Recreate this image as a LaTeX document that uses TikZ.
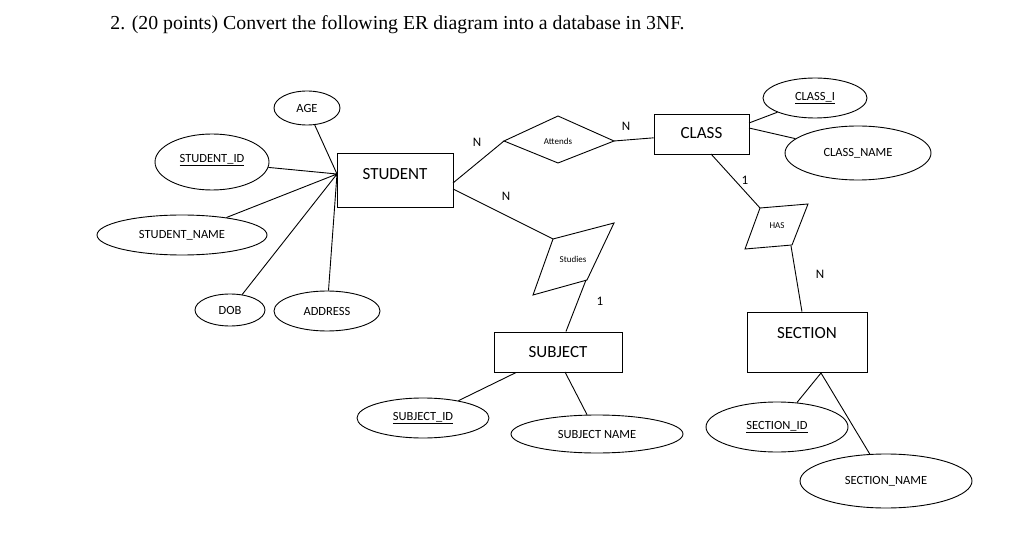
\documentclass[tikz,border=0pt]{standalone}
\usepackage{fontspec}
\usetikzlibrary{shapes.geometric}
\setmainfont{Carlito}
\newfontfamily\titlefont{Liberation Serif}
\begin{document}
\begin{tikzpicture}[x=1pt,y=-1pt,line width=0.9pt,
  ent/.style={draw,rectangle,inner sep=0pt,font=\fontsize{17}{17}\selectfont},
  att/.style={draw,ellipse,inner sep=0pt,font=\fontsize{12.5}{13}\selectfont},
  lbl/.style={font=\fontsize{13}{13}\selectfont,inner sep=0pt},
  rel/.style={font=\fontsize{9}{9}\selectfont,inner sep=0pt}]
\useasboundingbox (0,0) rectangle (1024,534);
\node[anchor=west,font=\titlefont\fontsize{19.8}{20}\selectfont,inner sep=0pt] (title) at (110,25) {2. (20 points) Convert the following ER diagram into a database in 3NF.};
% STUDENT
\draw (337,153) rectangle (453,207);
\node[font=\fontsize{17}{17}\selectfont] (stut) at (395,174) {STUDENT};
\coordinate (sw) at (337,174);
\coordinate (se1) at (453,183);
\coordinate (se2) at (453,189);
\node[att,minimum width=66,minimum height=34] (age) at (307,108) {AGE};
\node[att,minimum width=114,minimum height=56] (sid) at (212,162) {\raisebox{8pt}{\underline{STUDENT\_ID}}};
\node[att,minimum width=170,minimum height=40] (sname) at (182,235) {STUDENT\_NAME};
\node[att,minimum width=70,minimum height=32] (dob) at (230,310) {DOB};
\node[att,minimum width=106,minimum height=40] (addr) at (327,311) {ADDRESS};
\draw (sw) -- (age) (sw) -- (sid) (sw) -- (sname) (sw) -- (dob) (sw) -- (addr);
% Attends
\coordinate (al) at (504,141); \coordinate (at) at (558,116);
\coordinate (ar) at (614,141); \coordinate (ab) at (558,163);
\draw (al) -- (at) -- (ar) -- (ab) -- cycle;
\node[rel] (att) at (558,141) {Attends};
% CLASS
\node[ent,minimum width=95,minimum height=40] (cls) at (701.5,134) {\raisebox{2pt}{CLASS}};
\draw (se1) -- (al) (ar) -- (cls);
\node[att,minimum width=104,minimum height=40] (cid) at (815,98) {\underline{CLASS\_I}};
\node[att,minimum width=146,minimum height=54] (cname) at (858,153) {CLASS\_NAME};
\coordinate (ce1) at (749,123);
\coordinate (ce2) at (749,128);
\draw (ce1) -- (cid) (ce2) -- (cname);
% HAS
\coordinate (h1) at (760,208); \coordinate (h2) at (808,204);
\coordinate (h3) at (792,245); \coordinate (h4) at (745,249);
\draw (h1) -- (h2) -- (h3) -- (h4) -- cycle;
\node[rel] (has) at (777,226) {HAS};
\coordinate (cb) at (711,154);
\draw (cb) -- (h1);
% SECTION
\node[ent,minimum width=120,minimum height=60] (sec) at (807,342) {\raisebox{18pt}{SECTION}};
\coordinate (hb) at (791,246);
\draw (hb) -- (sec);
\node[att,minimum width=142,minimum height=50] (secid) at (777,427) {\raisebox{4pt}{\underline{SECTION\_ID}}};
\node[att,minimum width=172,minimum height=54] (secn) at (886,481) {SECTION\_NAME};
\coordinate (sb) at (821,373);
\draw (sb) -- (secid) (sb) -- (secn);
% Studies
\coordinate (s1) at (553,239); \coordinate (s2) at (614,223);
\coordinate (s3) at (587,280); \coordinate (s4) at (533,295);
\draw (s1) -- (s2) -- (s3) -- (s4) -- cycle;
\node[rel] (stud) at (573,259) {Studies};
\draw (se2) -- (s1);
% SUBJECT
\node[ent,minimum width=128,minimum height=40] (sub) at (558,352) {SUBJECT};
\coordinate (sbt) at (586,280);
\draw (sbt) -- (sub);
\node[att,minimum width=132,minimum height=40] (subid) at (423,418) {\raisebox{4pt}{\underline{SUBJECT\_ID}}};
\node[att,minimum width=172,minimum height=38] (subn) at (597,434) {SUBJECT NAME};
\coordinate (subb) at (565,372);
\draw (subb) -- (subn);
\draw (sub) -- (subid);
% labels
\node[lbl] (n1) at (477,142) {N};
\node[lbl] (n2) at (626,126) {N};
\node[lbl] (n3) at (506,196) {N};
\node[lbl] (o1) at (600,301) {1};
\node[lbl] (o2) at (745,180) {1};
\node[lbl] (n4) at (820,274) {N};
\end{tikzpicture}
\end{document}
